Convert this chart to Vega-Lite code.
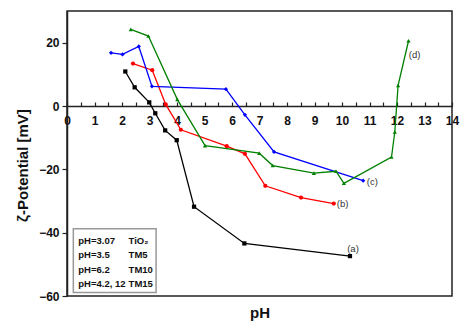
{
  "$schema": "https://vega.github.io/schema/vega-lite/v6.json",
  "width": 385,
  "height": 285,
  "autosize": "none",
  "padding": {"left": 67, "top": 11, "right": 22, "bottom": 37},
  "background": "white",
  "config": {
    "font": "Liberation Sans",
    "view": {"stroke": "#222222", "strokeWidth": 1.5}
  },
  "datasets": {
    "series": [
      {"s": "a", "pH": 2.12, "zeta": 10.9},
      {"s": "a", "pH": 2.46, "zeta": 5.9},
      {"s": "a", "pH": 2.99, "zeta": 1.15},
      {"s": "a", "pH": 3.21, "zeta": -2.3},
      {"s": "a", "pH": 3.57, "zeta": -7.7},
      {"s": "a", "pH": 3.99, "zeta": -10.8},
      {"s": "a", "pH": 4.62, "zeta": -31.8},
      {"s": "a", "pH": 6.45, "zeta": -43.4},
      {"s": "a", "pH": 10.29, "zeta": -47.4},
      {"s": "b", "pH": 2.40, "zeta": 13.4},
      {"s": "b", "pH": 3.10, "zeta": 11.3},
      {"s": "b", "pH": 3.59, "zeta": 0.5},
      {"s": "b", "pH": 4.14, "zeta": -7.5},
      {"s": "b", "pH": 5.81, "zeta": -12.7},
      {"s": "b", "pH": 6.47, "zeta": -15.1},
      {"s": "b", "pH": 7.21, "zeta": -25.2},
      {"s": "b", "pH": 8.51, "zeta": -28.9},
      {"s": "b", "pH": 9.70, "zeta": -30.8},
      {"s": "c", "pH": 1.60, "zeta": 16.8},
      {"s": "c", "pH": 2.02, "zeta": 16.3},
      {"s": "c", "pH": 2.61, "zeta": 18.8},
      {"s": "c", "pH": 3.09, "zeta": 6.2},
      {"s": "c", "pH": 5.78, "zeta": 5.3},
      {"s": "c", "pH": 6.47, "zeta": -2.8},
      {"s": "c", "pH": 7.53, "zeta": -14.5},
      {"s": "c", "pH": 10.77, "zeta": -23.6},
      {"s": "d", "pH": 2.32, "zeta": 24.2},
      {"s": "d", "pH": 2.96, "zeta": 22.1},
      {"s": "d", "pH": 4.01, "zeta": 2.1},
      {"s": "d", "pH": 5.02, "zeta": -12.5},
      {"s": "d", "pH": 6.99, "zeta": -14.9},
      {"s": "d", "pH": 7.48, "zeta": -18.8},
      {"s": "d", "pH": 8.98, "zeta": -21.2},
      {"s": "d", "pH": 9.78, "zeta": -20.6},
      {"s": "d", "pH": 10.07, "zeta": -24.4},
      {"s": "d", "pH": 11.80, "zeta": -16.1},
      {"s": "d", "pH": 11.92, "zeta": -8.2},
      {"s": "d", "pH": 12.04, "zeta": 6.5},
      {"s": "d", "pH": 12.42, "zeta": 20.6}
    ],
    "tags": [
      {"pH": 10.4, "zeta": -45.1, "t": "(a)"},
      {"pH": 10.02, "zeta": -31.0, "t": "(b)"},
      {"pH": 11.1, "zeta": -24.0, "t": "(c)"},
      {"pH": 12.64, "zeta": 16.0, "t": "(d)"}
    ],
    "box": [
      {"x1": 0.23, "x2": 3.24, "y1": -38.8, "y2": -58.9}
    ],
    "legendText": [
      {"tx": 0.41, "ty": -42.6, "t": "pH=3.07"},
      {"tx": 2.24, "ty": -42.6, "t": "TiO₂"},
      {"tx": 0.41, "ty": -47.2, "t": "pH=3.5"},
      {"tx": 2.24, "ty": -47.2, "t": "TM5"},
      {"tx": 0.41, "ty": -51.7, "t": "pH=6.2"},
      {"tx": 2.24, "ty": -51.7, "t": "TM10"},
      {"tx": 0.41, "ty": -56.1, "t": "pH=4.2, 12"},
      {"tx": 2.24, "ty": -56.1, "t": "TM15"}
    ]
  },
  "resolve": {"axis": {"x": "independent"}},
  "layer": [
    {
      "data": {"name": "series"},
      "mark": {"type": "line", "strokeWidth": 1.3},
      "encoding": {
        "x": {
          "field": "pH", "type": "quantitative",
          "scale": {"domain": [0, 14], "nice": false},
          "axis": {
            "orient": "bottom", "offset": -190, "title": null,
            "values": [0,0.5,1,1.5,2,2.5,3,3.5,4,4.5,5,5.5,6,6.5,7,7.5,8,8.5,9,9.5,10,10.5,11,11.5,12,12.5,13,13.5,14],
            "labelExpr": "datum.value % 1 === 0 ? '' + datum.value : ''",
            "grid": false,
            "tickSize": -4, "tickColor": "#222222", "tickWidth": 1.2,
            "domainColor": "#222222", "domainWidth": 1.5,
            "labelFontSize": 12, "labelFontWeight": "bold", "labelColor": "#111111",
            "labelPadding": 13, "labelFlush": false
          }
        },
        "y": {
          "field": "zeta", "type": "quantitative",
          "scale": {"domain": [-60, 30], "nice": false},
          "axis": {
            "title": "ζ-Potential [mV]",
            "titleFontSize": 15, "titleFontWeight": "bold", "titleColor": "#111111",
            "titlePadding": 8, "titleY": 154,
            "values": [-60,-50,-40,-30,-20,-10,0,10,20],
            "labelExpr": "datum.value % 20 === 0 ? datum.label : ''",
            "grid": false,
            "tickSize": 5, "tickColor": "#222222", "tickWidth": 1.2,
            "domainColor": "#222222", "domainWidth": 1.5,
            "labelFontSize": 12, "labelFontWeight": "bold", "labelColor": "#111111",
            "labelPadding": 3
          }
        },
        "color": {
          "field": "s", "type": "nominal",
          "scale": {"domain": ["a", "b", "c", "d"], "range": ["#000000", "#ff0000", "#0000ff", "#008000"]},
          "legend": null
        }
      }
    },
    {
      "data": {"name": "series"},
      "mark": {"type": "point", "filled": true, "opacity": 1, "size": 18},
      "encoding": {
        "x": {"field": "pH", "type": "quantitative", "axis": null},
        "y": {"field": "zeta", "type": "quantitative"},
        "color": {
          "field": "s", "type": "nominal",
          "scale": {"domain": ["a", "b", "c", "d"], "range": ["#000000", "#ff0000", "#0000ff", "#008000"]},
          "legend": null
        },
        "shape": {
          "field": "s", "type": "nominal",
          "scale": {"domain": ["a", "b", "c", "d"], "range": ["square", "circle", "diamond", "triangle-up"]},
          "legend": null
        }
      }
    },
    {
      "data": {"name": "tags"},
      "mark": {"type": "text", "fontSize": 9.5, "color": "#333333", "align": "center", "baseline": "middle"},
      "encoding": {
        "x": {"field": "pH", "type": "quantitative", "axis": null},
        "y": {"field": "zeta", "type": "quantitative"},
        "text": {"field": "t"}
      }
    },
    {
      "data": {"name": "box"},
      "mark": {"type": "rect", "fill": "white", "stroke": "#999999", "strokeWidth": 1.5},
      "encoding": {
        "x": {
          "field": "x1", "type": "quantitative",
          "axis": {
            "orient": "bottom", "title": "pH",
            "labels": false, "ticks": false, "domain": false, "grid": false,
            "titleFontSize": 15, "titleFontWeight": "bold", "titleColor": "#111111",
            "titlePadding": 9
          }
        },
        "x2": {"field": "x2"},
        "y": {"field": "y1", "type": "quantitative"},
        "y2": {"field": "y2"}
      }
    },
    {
      "data": {"name": "legendText"},
      "mark": {"type": "text", "fontSize": 9.5, "fontWeight": "bold", "color": "#111111", "align": "left", "baseline": "middle"},
      "encoding": {
        "x": {"field": "tx", "type": "quantitative", "axis": null},
        "y": {"field": "ty", "type": "quantitative"},
        "text": {"field": "t"}
      }
    }
  ]
}
